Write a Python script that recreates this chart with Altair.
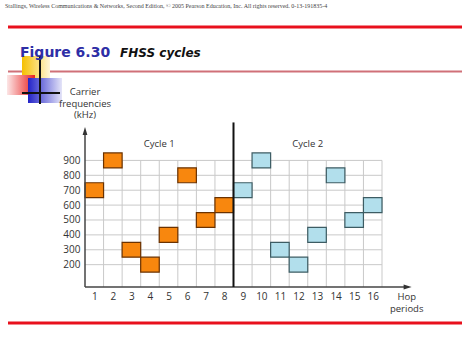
import altair as alt
import pandas as pd

# ---- data ----
hops = list(range(1, 17))
freqs = [700, 900, 300, 200, 400, 800, 500, 600,
         700, 900, 300, 200, 400, 800, 500, 600]
cycles = ["Cycle 1"] * 8 + ["Cycle 2"] * 8
ytick_values = [200, 300, 400, 500, 600, 700, 800, 900]
cycle_labels = ["Cycle 1", "Cycle 2"]
cycle_label_x = [4.5, 12.5]
cycle_label_y = [1010, 1010]
cycle_boundary = [8.5]

FONT = "Open Sans"
TXT = "#333333"

xs = alt.Scale(domain=[0.5, 16.5], nice=False, zero=False)
ys = alt.Scale(domain=[50, 1158], nice=False, zero=False)
xaxis = alt.Axis(values=hops, title=None, grid=False, domain=False, ticks=False,
                 tickSize=0, labelPadding=4, labelFontSize=10, labelFont=FONT,
                 labelColor=TXT, format="d", labelFlush=False)
yaxis = alt.Axis(values=ytick_values, title=None, grid=False, domain=False, ticks=False,
                 tickSize=0, labelPadding=5, labelFontSize=10, labelFont=FONT,
                 labelColor=TXT, format="d")

df = pd.DataFrame({"hop": hops, "freq": freqs, "cycle": cycles})
df["x1"] = df.hop - 0.5
df["x2"] = df.hop + 0.5
df["y1"] = df.freq - 50
df["y2"] = df.freq + 50

hgrid = pd.DataFrame({"y": ytick_values, "x1": 0.5, "x2": 16.5})
vgrid = pd.DataFrame({"x": [h + 0.5 for h in hops], "y1": 50, "y2": 900})

grid_h = alt.Chart(hgrid).mark_rule(color="#c9c9c9", strokeWidth=1).encode(
    x=alt.X("x1:Q", scale=xs, axis=xaxis), x2="x2",
    y=alt.Y("y:Q", scale=ys, axis=yaxis))
grid_v = alt.Chart(vgrid).mark_rule(color="#c9c9c9", strokeWidth=1).encode(
    x=alt.X("x:Q", scale=xs, axis=xaxis),
    y=alt.Y("y1:Q", scale=ys, axis=yaxis), y2="y2")

squares = alt.Chart(df).mark_rect(strokeWidth=1.2).encode(
    x=alt.X("x1:Q", scale=xs, axis=xaxis), x2="x2",
    y=alt.Y("y1:Q", scale=ys, axis=yaxis), y2="y2",
    fill=alt.Fill("cycle:N", scale=alt.Scale(domain=cycle_labels,
                  range=["#F8870E", "#B2DFEC"]), legend=None),
    stroke=alt.Stroke("cycle:N", scale=alt.Scale(domain=cycle_labels,
                      range=["#6b3200", "#3d5c63"]), legend=None))

# axes with arrows
axis_df = pd.DataFrame({"x1": [0.5, 0.5], "x2": [17.88, 0.5],
                        "y1": [50, 50], "y2": [50, 1097]})
axis_lines = alt.Chart(axis_df).mark_rule(color="#444444", strokeWidth=1.5).encode(
    x=alt.X("x1:Q", scale=xs, axis=xaxis), x2="x2",
    y=alt.Y("y1:Q", scale=ys, axis=yaxis), y2="y2")
arrow_x = alt.Chart(pd.DataFrame({"x": [17.88], "y": [50]})).mark_point(
    shape="M-1,-0.6L1,0L-1,0.6Z", filled=True, size=64, color="#333333", opacity=1).encode(
    x=alt.X("x:Q", scale=xs, axis=xaxis), y=alt.Y("y:Q", scale=ys, axis=yaxis))
arrow_y = alt.Chart(pd.DataFrame({"x": [0.5], "y": [1097]})).mark_point(
    shape="M-0.6,1L0,-1L0.6,1Z", filled=True, size=64, color="#333333", opacity=1).encode(
    x=alt.X("x:Q", scale=xs, axis=xaxis), y=alt.Y("y:Q", scale=ys, axis=yaxis))

divider = alt.Chart(pd.DataFrame({"x": cycle_boundary, "y1": [50], "y2": [1155]})).mark_rule(
    color="#111111", strokeWidth=2).encode(
    x=alt.X("x:Q", scale=xs, axis=xaxis),
    y=alt.Y("y1:Q", scale=ys, axis=yaxis), y2="y2")

cyc = alt.Chart(pd.DataFrame({"label": cycle_labels, "x": cycle_label_x, "y": cycle_label_y})).mark_text(
    font=FONT, fontSize=9.5, color=TXT, baseline="middle").encode(
    x=alt.X("x:Q", scale=xs, axis=xaxis), y=alt.Y("y:Q", scale=ys, axis=yaxis), text="label:N")

one = pd.DataFrame({"a": [0]})

def txt(s, x, y, **kw):
    return alt.Chart(one).mark_text(**kw).encode(
        x=alt.value(x), y=alt.value(y), text=alt.value(s))

def rule(x1, x2, y1, y2, **kw):
    return alt.Chart(one).mark_rule(**kw).encode(
        x=alt.value(x1), x2=alt.value(x2), y=alt.value(y1), y2=alt.value(y2))

def rect(x1, x2, y1, y2, fill):
    return alt.Chart(one).mark_rect(fill=fill, strokeWidth=0).encode(
        x=alt.value(x1), x2=alt.value(x2), y=alt.value(y1), y2=alt.value(y2))

# plot origin at (85,122) in page pixels
OX, OY = 85, 122

ytitle = alt.Chart(one).mark_text(font=FONT, fontSize=9.5, color=TXT, align="center",
                                  baseline="middle", lineBreak="\n", lineHeight=11.5).encode(
    x=alt.value(0), y=alt.value(92 - OY), text=alt.value("Carrier\nfrequencies\n(kHz)"))
xtitle = alt.Chart(one).mark_text(font=FONT, fontSize=9.5, color=TXT, align="center",
                                  baseline="middle", lineBreak="\n", lineHeight=11.5).encode(
    x=alt.value(406.7 - OX), y=alt.value(297 - OY), text=alt.value("Hop\nperiods"))

header = txt("Stallings, Wireless Communications & Networks, Second Edition, \u00a9 2005 Pearson Education, Inc. All rights reserved. 0-13-191835-4",
             5 - OX, 6 - OY, font="Liberation Serif", fontSize=6, color="#444444",
             align="left", baseline="middle")
fig = txt("Figure 6.30", 20 - OX, 57 - OY, font="DejaVu Sans", fontSize=14, fontWeight="bold",
          color="#2E2EA6", align="left", baseline="alphabetic")
sub = txt("FHSS cycles", 120 - OX, 57 - OY, font="DejaVu Sans", fontSize=12, fontWeight="bold",
          fontStyle="italic", color="#111111", align="left", baseline="alphabetic")

red_top = rule(8 - OX, 462 - OX, 27 - OY, 27 - OY, color="#E8101C", strokeWidth=3)
pink = rule(8 - OX, 462 - OX, 71.5 - OY, 71.5 - OY, color="#D07078", strokeWidth=2)
red_bot = rule(8 - OX, 462 - OX, 323 - OY, 323 - OY, color="#E8101C", strokeWidth=3)

def grad(c0, c1):
    return {"gradient": "linear", "x1": 0, "y1": 0, "x2": 1, "y2": 0,
            "stops": [{"offset": 0, "color": c0}, {"offset": 1, "color": c1}]}

yel = rect(22 - OX, 50 - OX, 56 - OY, 78 - OY, grad("#F5C000", "#FFF6D8"))
red = rect(7 - OX, 35 - OX, 75 - OY, 95 - OY, grad("#FCE6E6", "#E82020"))
blu = rect(28 - OX, 62 - OX, 78 - OY, 103 - OY, grad("#2222C8", "#E4E4F8"))
vline = rule(40 - OX, 40 - OX, 56 - OY, 104 - OY, color="#111111", strokeWidth=2)
hline = rule(22 - OX, 60 - OX, 93 - OY, 93 - OY, color="#111111", strokeWidth=2)

chart = alt.layer(
    grid_h, grid_v, squares, axis_lines, arrow_x, arrow_y, divider, cyc,
    header, red_top, pink, red_bot, yel, red, blu, vline, hline, fig, sub, ytitle, xtitle
).properties(
    width=297, height=165,
    padding={"left": 85, "top": 122, "right": 92, "bottom": 68},
    autosize="none", background="white"
).configure_view(stroke=None)

chart.save("out.html", embed_options={"renderer": "svg", "actions": False})
